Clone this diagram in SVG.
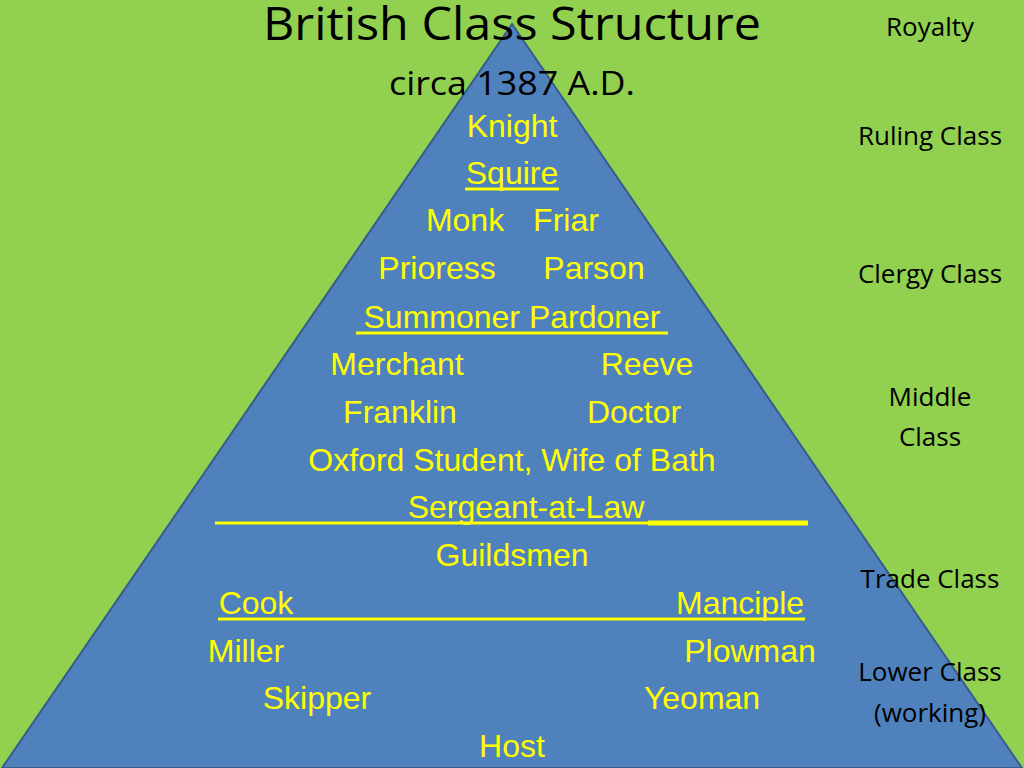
<svg xmlns="http://www.w3.org/2000/svg" width="1024" height="768" viewBox="0 0 1024 768">
<style>
.y{font-family:"Liberation Sans",Arial,sans-serif;font-size:32px;fill:#FFFF00;text-anchor:middle}
.r{font-family:"Open Sans","Liberation Sans",sans-serif;font-size:26px;fill:#000;text-anchor:middle}
.u{stroke:#FFFF00;stroke-width:3}
</style>
<rect width="1024" height="768" fill="#92D050"/>
<polygon points="512,24 2,768 1022,768" fill="#4F81BD" stroke="#385D8A" stroke-width="2"/>
<text x="512" y="40" font-family="Open Sans,Liberation Sans,sans-serif" font-size="46" text-anchor="middle" textLength="498" lengthAdjust="spacingAndGlyphs">British Class Structure</text>
<text x="512" y="95" font-family="Open Sans,Liberation Sans,sans-serif" font-size="32" text-anchor="middle" textLength="246" lengthAdjust="spacingAndGlyphs">circa 1387 A.D.</text>
<g>
<text class="r" x="930" y="36">Royalty</text>
<text class="r" x="930" y="145">Ruling Class</text>
<text class="r" x="930" y="283">Clergy Class</text>
<text class="r" x="930" y="406">Middle</text>
<text class="r" x="930" y="446">Class</text>
<text class="r" x="930" y="588">Trade Class</text>
<text class="r" x="930" y="681">Lower Class</text>
<text class="r" x="930" y="722">(working)</text>
</g>
<g>
<text class="y" x="512" y="137">Knight</text>
<text class="y" x="512" y="184">Squire</text>
<line class="u" x1="465" y1="189" x2="559" y2="189"/>
<text class="y" x="465" y="231">Monk</text>
<text class="y" x="566" y="231">Friar</text>
<text class="y" x="437" y="279">Prioress</text>
<text class="y" x="594" y="279">Parson</text>
<text class="y" x="512" y="328">Summoner  Pardoner</text>
<line class="u" x1="356" y1="333" x2="668" y2="333"/>
<text class="y" x="397" y="375">Merchant</text>
<text class="y" x="647" y="375">Reeve</text>
<text class="y" x="400" y="423">Franklin</text>
<text class="y" x="634" y="423">Doctor</text>
<text class="y" x="512" y="471">Oxford Student, Wife of Bath</text>
<text class="y" x="526" y="518">Sergeant-at-Law</text>
<line class="u" x1="215" y1="523" x2="648" y2="523"/>
<line x1="648" y1="523" x2="808" y2="523" stroke="#FFFF00" stroke-width="5"/>
<text class="y" x="512" y="566">Guildsmen</text>
<text class="y" x="256" y="614">Cook</text>
<text class="y" x="740" y="614">Manciple</text>
<line class="u" x1="218" y1="619" x2="805" y2="619"/>
<text class="y" x="246" y="662">Miller</text>
<text class="y" x="750" y="662">Plowman</text>
<text class="y" x="317" y="709">Skipper</text>
<text class="y" x="702" y="709">Yeoman</text>
<text class="y" x="512" y="757">Host</text>
</g>
</svg>
